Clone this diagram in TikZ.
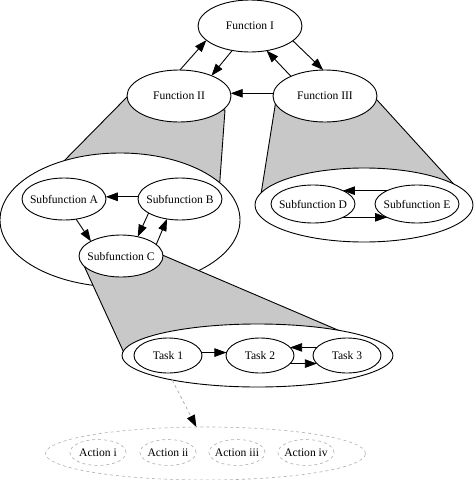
\documentclass[tikz,border=0pt]{standalone}
\usepackage{fontspec}
\setmainfont{Liberation Serif}
\usetikzlibrary{shapes.geometric,arrows.meta}
\definecolor{shade}{RGB}{200,200,200}
\definecolor{dgray}{RGB}{175,175,175}
\newcommand\zb[1]{\makebox[0pt]{#1}}
\begin{document}
\begin{tikzpicture}[x=1pt,y=-1pt,
  ell/.style={ellipse,draw,fill=white,line width=0.9pt,inner sep=0pt,outer sep=0pt,
    font=\fontsize{11.6}{13}\selectfont},
  fun/.style={ell,minimum width=104pt,minimum height=52pt},
  sub/.style={ell,minimum width=84pt,minimum height=42pt},
  task/.style={ell,minimum width=68pt,minimum height=35pt},
  act/.style={ell,dashed,draw=dgray,line width=0.6pt,dash pattern=on 3pt off 3pt,
    minimum width=56pt,minimum height=26pt},
  funnel/.style={fill=shade,draw=black,line width=0.9pt,line join=round},
  arr/.style={-{Triangle[length=12pt,width=8.5pt]},line width=0.9pt},
  darr/.style={-{Triangle[length=12pt,width=8.5pt,color=black]},draw=dgray,line width=0.8pt,
    dash pattern=on 3pt off 3pt}
]
\fill[white] (0,0) rectangle (474,480);
\useasboundingbox (0,0) rectangle (474,480);

% funnels from the functions to their clusters
\filldraw[funnel] (127,97) -- (60,165) -- (219.5,186) -- (225,110) -- cycle;
\filldraw[funnel] (276,100) -- (260.7,196) -- (455.4,186) -- (373.4,96) -- cycle;

% functions
\node[fun] (f1) at (250,26) {\zb{Function I}};
\node[fun] (f2) at (179,96) {\zb{Function II}};
\node[fun] (f3) at (325,96) {\zb{Function III}};

% subfunction cluster A/B/C
\node[ell,minimum width=240pt,minimum height=134pt] (cab) at (120,220) {};
% funnel from Subfunction C to the tasks
\filldraw[funnel] (82.3,262) -- (125,355) -- (345,333.1) -- (160,254) -- cycle;
\node[sub] (sa) at (64,199) {\zb{Subfunction A}};
\node[sub] (sb) at (180,199) {\zb{Subfunction B}};
\node[sub] (sc) at (121,256) {\zb{Subfunction C}};

% subfunction cluster D/E
\node[ell,minimum width=218pt,minimum height=74pt] (cde) at (364,205) {};
\node[sub,minimum height=38pt] (sd) at (313,204) {\zb{Subfunction D}};
\node[sub,minimum height=38pt] (se) at (417,204) {\zb{Subfunction E}};

% task cluster
\node[ell,minimum width=271pt,minimum height=63pt] (ct) at (257.5,355.5) {};
\node[task] (t1) at (168,355.5) {\zb{Task 1}};
\node[task] (t2) at (260,355.5) {\zb{Task 2}};
\node[task] (t3) at (347,355.5) {\zb{Task 3}};

% action cluster
\node[act,minimum width=320pt,minimum height=53pt] (ca) at (205.5,453.5) {};
\node[act] (a1) at (98,452.5) {\zb{Action i}};
\node[act] (a2) at (168,452.5) {\zb{Action ii}};
\node[act] (a3) at (237,452.5) {\zb{Action iii}};
\node[act] (a4) at (306,452.5) {\zb{Action iv}};

% connectors
\draw[arr] (f2.88) -- (f1.198);
\draw[arr] (f1.234) -- (f2.32);
\draw[arr] (f3.150) -- (f1.304);
\draw[arr] (f1.341) -- (f3.94);
\draw[arr] (f3.177) -- (f2.3);
\draw[arr] (sb.177) -- (sa.3);
\draw[arr] (sa.301) -- (sc.154);
\draw[arr] (sb.204) -- (sc.49);
\draw[arr] (sc.18) -- (sb.237);
\draw[arr] (se.156) -- (sd.24);
\draw[arr] (sd.336) -- (se.204);
\draw[arr] (t1.5) -- (t2.175);
\draw[arr] (t3.165) -- (t2.15);
\draw[arr] (t2.345) -- (t3.195);
\draw[darr] (ct.196) -- (ca.109);
\end{tikzpicture}
\end{document}
